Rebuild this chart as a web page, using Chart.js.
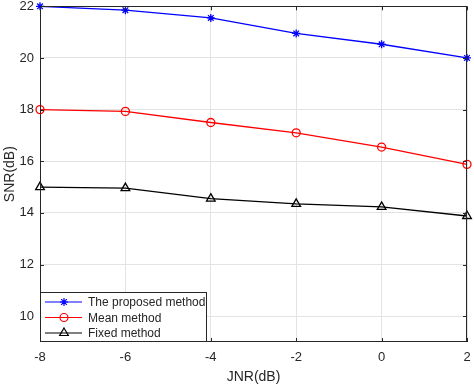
<!DOCTYPE html>
<html><head><meta charset="utf-8">
<script src="https://cdn.jsdelivr.net/npm/chart.js@4"></script>
<style>html,body{margin:0;padding:0;background:#fff}#wrap{width:474px;height:386px}</style>
</head><body><div id="wrap"><canvas id="c" width="474" height="386"></canvas></div>
<script>
const jnr = [-8, -6, -4, -2, 0, 2];
const proposed = [22.0, 21.85, 21.55, 20.95, 20.53, 20.0];
const meanMethod = [18.0, 17.93, 17.5, 17.1, 16.55, 15.88];
const fixedMethod = [15.0, 14.96, 14.55, 14.35, 14.23, 13.88];
const yTicks = [10, 12, 14, 16, 18, 20, 22];
const xTicks = [-8, -6, -4, -2, 0, 2];
const seriesNames = ['The proposed method', 'Mean method', 'Fixed method'];
const xTitle = 'JNR(dB)';
const yTitle = 'SNR(dB)';

const FONT = '"Liberation Sans", Arial, sans-serif';
const AXC = '#262626';

function pts(arr){ return jnr.map((x,i)=>({x:x,y:arr[i]})); }

const styles = [
  {color:'#0000ff', point:'star', r:4},
  {color:'#ff0000', point:'circle', r:4},
  {color:'#000000', point:'triangle', r:5}
];

const frame = {
  id:'frame',
  afterDatasetsDraw(chart){
    const {ctx, chartArea:a, scales} = chart;
    ctx.save();
    ctx.strokeStyle = AXC; ctx.lineWidth = 1;
    ctx.strokeRect(Math.round(a.left)+0.5, Math.round(a.top)+0.5, Math.round(a.right-a.left)-1, Math.round(a.bottom-a.top)-1);
    const tl = 4;
    ctx.beginPath();
    xTicks.forEach(v=>{
      const px = Math.round(scales.x.getPixelForValue(v))+0.5;
      ctx.moveTo(px, a.bottom); ctx.lineTo(px, a.bottom-tl);
      ctx.moveTo(px, a.top); ctx.lineTo(px, a.top+tl);
    });
    yTicks.forEach(v=>{
      const py = Math.round(scales.y.getPixelForValue(v))+0.5;
      ctx.moveTo(a.left, py); ctx.lineTo(a.left+tl, py);
      ctx.moveTo(a.right, py); ctx.lineTo(a.right-tl, py);
    });
    ctx.stroke();

    // legend
    const lx = a.left, lw = 167, lh = 50, ly = a.bottom - lh;
    ctx.fillStyle = '#fff';
    ctx.fillRect(lx, ly, lw, lh);
    ctx.strokeStyle = AXC;
    ctx.strokeRect(lx+0.5, ly+0.5, lw-1, lh-1);
    ctx.font = '12px ' + FONT;
    ctx.textBaseline = 'middle';
    chart.data.datasets.forEach((ds,i)=>{
      const yy = ly + 10 + i*15.5;
      ctx.strokeStyle = ds.borderColor; ctx.lineWidth = 1.2;
      ctx.beginPath(); ctx.moveTo(lx+5, yy); ctx.lineTo(lx+42, yy); ctx.stroke();
      ctx.fillStyle = 'rgba(0,0,0,0)';
      Chart.helpers.drawPoint(ctx, {pointStyle: ds.pointStyle, radius: ds.pointRadius, borderWidth: 1.2}, lx+24, yy);
      ctx.fillStyle = AXC;
      ctx.fillText(ds.label, lx+48, yy+1);
    });

    // titles
    ctx.fillStyle = AXC;
    ctx.font = '14px ' + FONT;
    ctx.textAlign = 'center'; ctx.textBaseline = 'middle';
    ctx.fillText(xTitle, (a.left+a.right)/2, 377);
    ctx.translate(10, (a.top+a.bottom)/2);
    ctx.rotate(-Math.PI/2);
    ctx.fillText(yTitle, 0, 0);
    ctx.restore();
  }
};

function zeroPad(s){ s.paddingTop = 0; s.paddingBottom = 0; s.paddingLeft = 0; s.paddingRight = 0; }

new Chart(document.getElementById('c'), {
  type:'line',
  data:{
    datasets:[proposed, meanMethod, fixedMethod].map((arr,i)=>({
      label: seriesNames[i],
      data: pts(arr),
      borderColor: styles[i].color,
      backgroundColor: 'rgba(0,0,0,0)',
      pointBorderColor: styles[i].color,
      pointBackgroundColor: 'rgba(0,0,0,0)',
      pointStyle: styles[i].point,
      pointRadius: styles[i].r,
      pointBorderWidth: 1.3,
      borderWidth: 1.3,
      tension: 0,
      clip: false
    }))
  },
  options:{
    responsive:false, animation:false, devicePixelRatio:1,
    layout:{padding:{top:6, right:7, left:0, bottom:0}},
    plugins:{legend:{display:false}, tooltip:{enabled:false}},
    scales:{
      x:{type:'linear', min:-8, max:2,
        afterBuildTicks(s){ s.ticks = xTicks.map(v=>({value:v})); },
        afterFit(s){ s.height = 44; zeroPad(s); },
        grid:{color:'#e3e3e3', drawTicks:false, lineWidth:1},
        border:{display:false},
        ticks:{padding:8, color:AXC, font:{family:FONT, size:13}, maxRotation:0, callback:v=>String(v)}
      },
      y:{type:'linear', min:9, max:22,
        afterBuildTicks(s){ s.ticks = yTicks.map(v=>({value:v})); },
        afterFit(s){ s.width = 40; zeroPad(s); },
        grid:{color:'#e3e3e3', drawTicks:false, lineWidth:1},
        border:{display:false},
        ticks:{padding:6, color:AXC, font:{family:FONT, size:13}, callback:v=>String(v)}
      }
    }
  },
  plugins:[frame]
});
</script>
</body></html>
